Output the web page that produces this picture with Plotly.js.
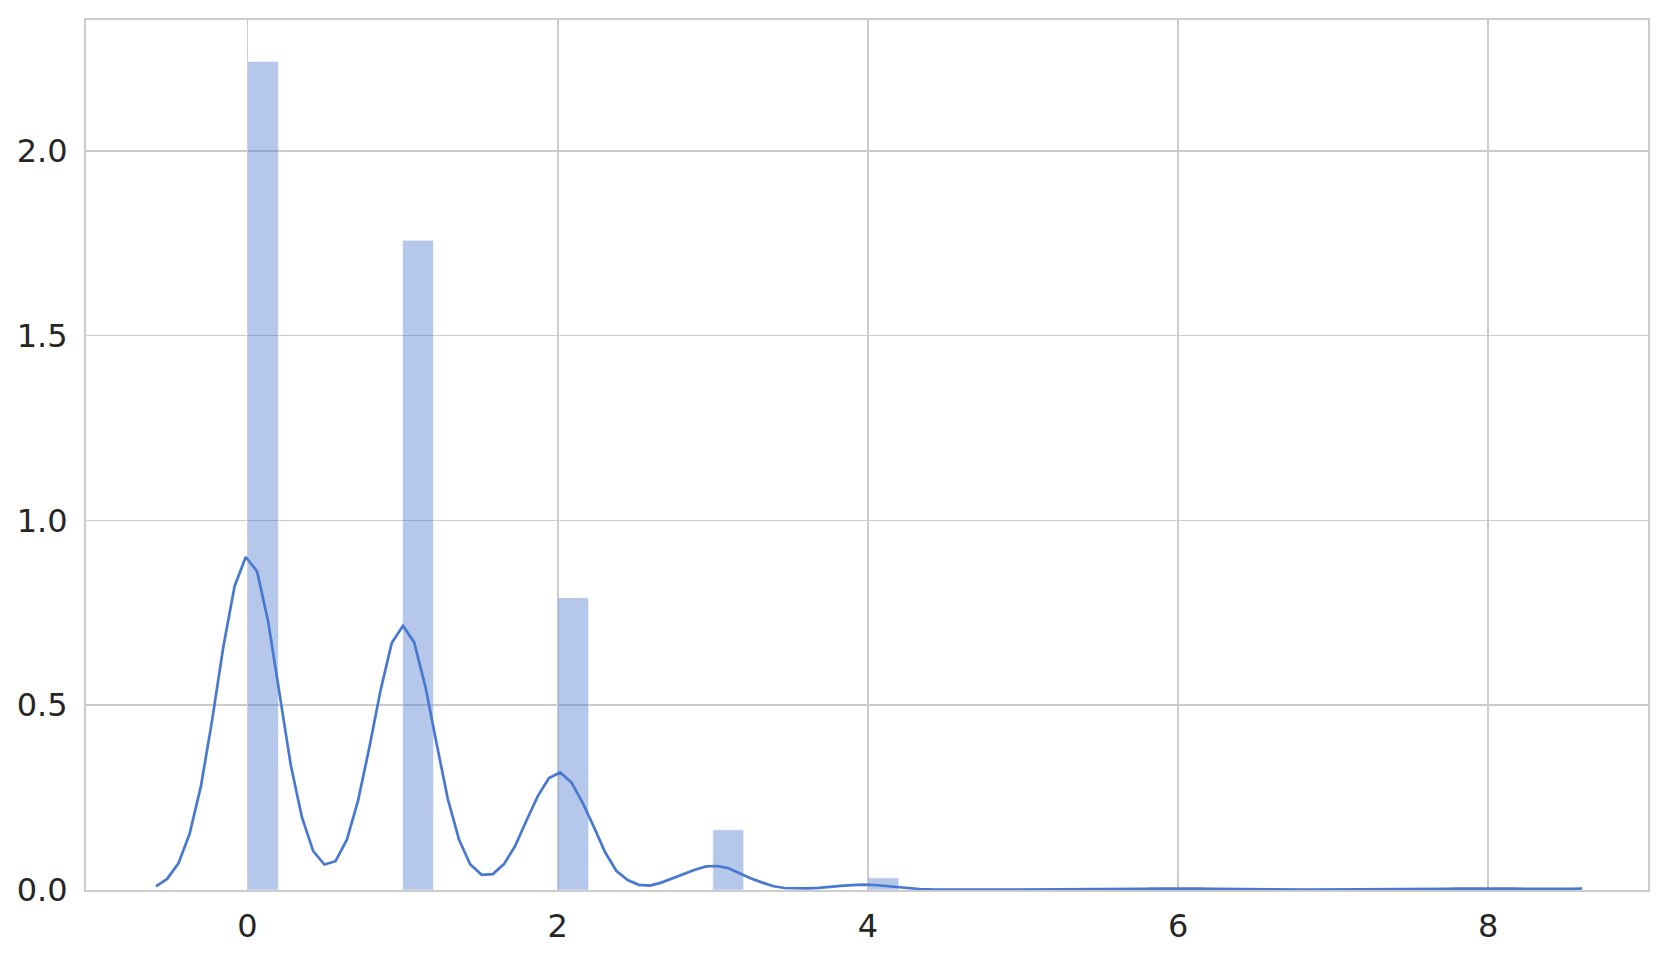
<!DOCTYPE html>
<html>
<head>
<meta charset="utf-8">
<script src="https://cdn.plot.ly/plotly-3.0.1.min.js"></script>
<style>html,body{margin:0;padding:0;background:#fff;}#chart{width:1668px;height:956px;}</style>
</head>
<body>
<div id="chart"></div>
<script>
// Histogram (density) – left edges of the 0.2-wide bins and their heights
const binLeft = [0, 1, 2, 3, 4];
const binHeight = [2.242, 1.758, 0.791, 0.163, 0.033];
const binWidth = 0.2;

// KDE curve
const kdeX = [
  -0.590, -0.518, -0.445, -0.373, -0.300, -0.228, -0.156, -0.083, -0.011, 0.062,
  0.134, 0.206, 0.279, 0.351, 0.424, 0.496, 0.568, 0.641, 0.713, 0.786,
  0.858, 0.930, 1.003, 1.075, 1.148, 1.220, 1.292, 1.365, 1.437, 1.510,
  1.582, 1.654, 1.727, 1.799, 1.872, 1.944, 2.016, 2.089, 2.161, 2.234,
  2.306, 2.378, 2.451, 2.523, 2.596, 2.668, 2.740, 2.813, 2.885, 2.958,
  3.030, 3.102, 3.175, 3.247, 3.320, 3.392, 3.464, 3.537, 3.609, 3.682,
  3.754, 3.826, 3.899, 3.971, 4.044, 4.116, 4.188, 4.261, 4.333, 4.406,
  4.478, 4.551, 4.623, 4.695, 4.768, 4.840, 4.913, 4.985, 5.057, 5.130,
  5.202, 5.275, 5.347, 5.419, 5.492, 5.564, 5.637, 5.709, 5.781, 5.854,
  5.926, 5.999, 6.071, 6.143, 6.216, 6.288, 6.361, 6.433, 6.505, 6.578,
  6.650, 6.723, 6.795, 6.867, 6.940, 7.012, 7.085, 7.157, 7.229, 7.302,
  7.374, 7.447, 7.519, 7.591, 7.664, 7.736, 7.809, 7.881, 7.953, 8.026,
  8.098, 8.171, 8.243, 8.315, 8.388, 8.460, 8.533, 8.605
];
const kdeY = [
  0.010, 0.030, 0.072, 0.152, 0.281, 0.459, 0.657, 0.822, 0.901, 0.862,
  0.725, 0.535, 0.339, 0.197, 0.105, 0.069, 0.078, 0.136, 0.242, 0.386,
  0.540, 0.668, 0.715, 0.670, 0.549, 0.395, 0.246, 0.135, 0.069, 0.041,
  0.043, 0.070, 0.120, 0.188, 0.254, 0.303, 0.318, 0.291, 0.236, 0.170,
  0.102, 0.052, 0.027, 0.014, 0.012, 0.020, 0.031, 0.042, 0.055, 0.064,
  0.065, 0.059, 0.045, 0.031, 0.020, 0.010, 0.0054, 0.0045, 0.0045, 0.006,
  0.009, 0.011, 0.013, 0.0144, 0.0135, 0.011, 0.0073, 0.0045, 0.0027, 0.0018,
  0.0012, 0.001, 0.001, 0.001, 0.001, 0.001, 0.001, 0.001, 0.001, 0.001,
  0.001, 0.001, 0.001, 0.001, 0.0012, 0.0015, 0.002, 0.0025, 0.003, 0.0035,
  0.004, 0.004, 0.004, 0.0037, 0.0032, 0.0027, 0.002, 0.0016, 0.0013, 0.001,
  0.001, 0.001, 0.001, 0.001, 0.001, 0.001, 0.001, 0.001, 0.001, 0.001,
  0.001, 0.0012, 0.0015, 0.002, 0.0025, 0.003, 0.0035, 0.004, 0.004, 0.004,
  0.0038, 0.0035, 0.003, 0.0027, 0.0025, 0.0025, 0.003, 0.004
];

const xTicks = [0, 2, 4, 6, 8];
const yTicks = [0.0, 0.5, 1.0, 1.5, 2.0];
const yTickText = ['0.0', '0.5', '1.0', '1.5', '2.0'];

const mainBlue = '#4878d0';

const traces = [
  {
    type: 'bar',
    x: binLeft,
    y: binHeight,
    width: binLeft.map(() => binWidth),
    offset: 0,
    marker: { color: mainBlue, opacity: 0.4, line: { color: 'rgba(255,255,255,0.6)', width: 1 } },
    hoverinfo: 'skip',
    showlegend: false
  },
  {
    type: 'scatter',
    mode: 'lines',
    x: kdeX,
    y: kdeY,
    line: { color: mainBlue, width: 2.7 },
    hoverinfo: 'skip',
    showlegend: false
  }
];

const axisCommon = {
  showgrid: true,
  gridcolor: '#cccccc',
  gridwidth: 1.7,
  showline: true,
  linecolor: '#cccccc',
  linewidth: 2,
  mirror: true,
  zeroline: false,
  ticks: '',
  tickfont: { family: 'DejaVu Sans', size: 32, color: '#262626' }
};

const layout = {
  width: 1668,
  height: 956,
  margin: { l: 86, r: 20, t: 20, b: 66 },
  paper_bgcolor: '#ffffff',
  plot_bgcolor: '#ffffff',
  bargap: 0,
  xaxis: Object.assign({}, axisCommon, {
    range: [-1.041, 9.03],
    tickvals: xTicks,
    ticktext: xTicks.map(String),
    ticklabelstandoff: 7
  }),
  yaxis: Object.assign({}, axisCommon, {
    range: [0, 2.354],
    tickvals: yTicks,
    ticktext: yTickText,
    ticklabelstandoff: 10
  })
};

Plotly.newPlot('chart', traces, layout, { displayModeBar: false, staticPlot: true });
</script>
</body>
</html>
